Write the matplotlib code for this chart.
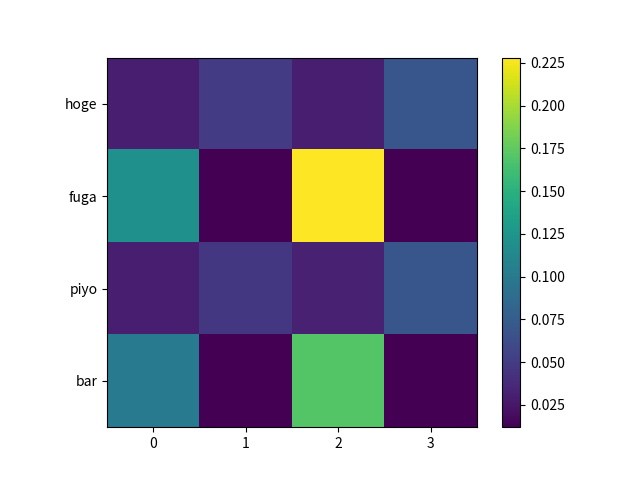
import matplotlib
matplotlib.use("Agg")
import matplotlib.pyplot as plt
import numpy as np

plt.rcParams['font.family'] = ['Noto Sans CJK JP', 'DejaVu Sans']

rows = ["hoge", "fuga", "piyo", "bar"]
cols = ["0", "1", "2", "3"]
hoge = [0.030, 0.050, 0.030, 0.070]
fuga = [0.120, 0.012, 0.228, 0.012]
piyo = [0.030, 0.047, 0.032, 0.070]
bar = [0.100, 0.012, 0.170, 0.012]

data = np.array([hoge, fuga, piyo, bar])
fig, ax = plt.subplots(figsize=(6.4, 4.8), dpi=100)
im = ax.imshow(data, cmap='viridis')
ax.set_yticks(range(len(rows)))
ax.set_yticklabels(rows)
ax.set_xticks(range(len(cols)))
ax.set_xticklabels(cols)
fig.colorbar(im, ax=ax)
fig.savefig("out.png")
